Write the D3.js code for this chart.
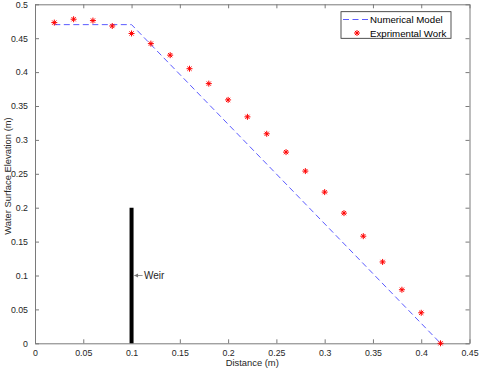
<!DOCTYPE html>
<html><head><meta charset="utf-8">
<script src="https://cdn.jsdelivr.net/npm/d3@7"></script>
<style>body{margin:0;background:#fff;}svg{display:block;font-family:"Liberation Sans",Arial,sans-serif;}</style>
</head><body>
<svg id="c" width="480" height="372"></svg>
<script>
const expX = [0.02,0.04,0.06,0.08,0.10,0.12,0.14,0.16,0.18,0.20,0.22,0.24,0.26,0.28,0.30,0.32,0.34,0.36,0.38,0.40,0.42];
const expY = [0.473,0.478,0.476,0.468,0.457,0.442,0.425,0.405,0.383,0.359,0.334,0.309,0.282,0.254,0.223,0.192,0.158,0.120,0.079,0.045,0.0];
const modelX = [0.02,0.10,0.42];
const modelY = [0.47,0.47,0.0];
const weirX = [0.1,0.1];
const weirY = [0,0.2];
const xTicks = [0,0.05,0.1,0.15,0.2,0.25,0.3,0.35,0.4,0.45];
const yTicks = [0,0.05,0.1,0.15,0.2,0.25,0.3,0.35,0.4,0.45,0.5];
const legendLabels = ["Numerical Model","Exprimental Work"];

const svg = d3.select("#c");
const L=35, R=469.5, T=4.3, B=343.3;
const x = d3.scaleLinear().domain([0,0.45]).range([L,R]);
const y = d3.scaleLinear().domain([0,0.5]).range([B,T]);
const axCol = "#262626";
const fmt = d => d===0 ? "0" : String(+d.toFixed(2));

// axes
const gx = svg.append("g").attr("transform",`translate(0,${B})`)
  .call(d3.axisBottom(x).tickValues(xTicks).tickFormat(fmt).tickSizeInner(-4).tickSizeOuter(0).tickPadding(6));
const gy = svg.append("g").attr("transform",`translate(${L},0)`)
  .call(d3.axisLeft(y).tickValues(yTicks).tickFormat(fmt).tickSizeInner(-4).tickSizeOuter(0).tickPadding(7));
const gx2 = svg.append("g").attr("transform",`translate(0,${T})`)
  .call(d3.axisTop(x).tickValues(xTicks).tickFormat("").tickSizeInner(-4).tickSizeOuter(0));
const gy2 = svg.append("g").attr("transform",`translate(${R},0)`)
  .call(d3.axisRight(y).tickValues(yTicks).tickFormat("").tickSizeInner(-4).tickSizeOuter(0));
[gx,gy,gx2,gy2].forEach(g=>{
  g.selectAll("path,line").attr("stroke","#7a7a7a").attr("stroke-width",1);
  g.selectAll("text").attr("fill",axCol).attr("font-size",8.8).attr("font-family","Liberation Sans, Arial, sans-serif");
});

// axis labels
svg.append("text").attr("x",(L+R)/2).attr("y",366).attr("text-anchor","middle")
  .attr("font-size",9.4).attr("fill",axCol).text("Distance (m)");
svg.append("text").attr("transform",`translate(10.5,176) rotate(-90)`).attr("text-anchor","middle")
  .attr("font-size",9.4).attr("fill",axCol).text("Water Surface Elevation (m)");

// weir
svg.append("line").attr("x1",x(weirX[0])).attr("x2",x(weirX[1])).attr("y1",y(weirY[0])).attr("y2",y(weirY[1]))
  .attr("stroke","#000").attr("stroke-width",4);
// weir annotation arrow
const ay = y(0.1);
svg.append("line").attr("x1",x(0.1)+3).attr("x2",x(0.1)+11).attr("y1",ay).attr("y2",ay).attr("stroke","#777").attr("stroke-width",0.8);
svg.append("path").attr("d",`M${x(0.1)+2.5},${ay} l4,-2 l0,4 z`).attr("fill","#777");
svg.append("text").attr("x",x(0.1)+12.5).attr("y",ay+3.6).attr("font-size",10).attr("fill",axCol).text("Weir");

// model line
const line = d3.line().x(d=>x(d[0])).y(d=>y(d[1]));
svg.append("path").datum(modelX.map((v,i)=>[v,modelY[i]])).attr("d",line)
  .attr("fill","none").attr("stroke","#5b5bff").attr("stroke-width",1).attr("stroke-dasharray","6,3.5");

// asterisk markers
const star = (g,cx,cy,r)=>{
  g.append("path").attr("d",`M${cx-r},${cy}H${cx+r}M${cx},${cy-r}V${cy+r}M${cx-r*0.7},${cy-r*0.7}L${cx+r*0.7},${cy+r*0.7}M${cx-r*0.7},${cy+r*0.7}L${cx+r*0.7},${cy-r*0.7}`)
   .attr("stroke","#ff0000").attr("stroke-width",1).attr("fill","none");
};
const mg = svg.append("g");
expX.forEach((v,i)=>star(mg,x(v),y(expY[i]),3));

// legend
const lg = svg.append("g");
lg.append("rect").attr("x",341).attr("y",11.7).attr("width",110).attr("height",26.6)
  .attr("fill","#fff").attr("stroke","#262626").attr("stroke-width",0.8);
lg.append("line").attr("x1",343).attr("x2",369).attr("y1",19.5).attr("y2",19.5)
  .attr("stroke","#5b5bff").attr("stroke-width",1).attr("stroke-dasharray","6,3.5");
star(lg,357,33,3);
lg.selectAll("text.lt").data(legendLabels).join("text").attr("class","lt")
  .attr("x",370).attr("y",(d,i)=>23+i*13.6).attr("font-size",9.7).attr("fill","#000").text(d=>d);
</script>
</body></html>
